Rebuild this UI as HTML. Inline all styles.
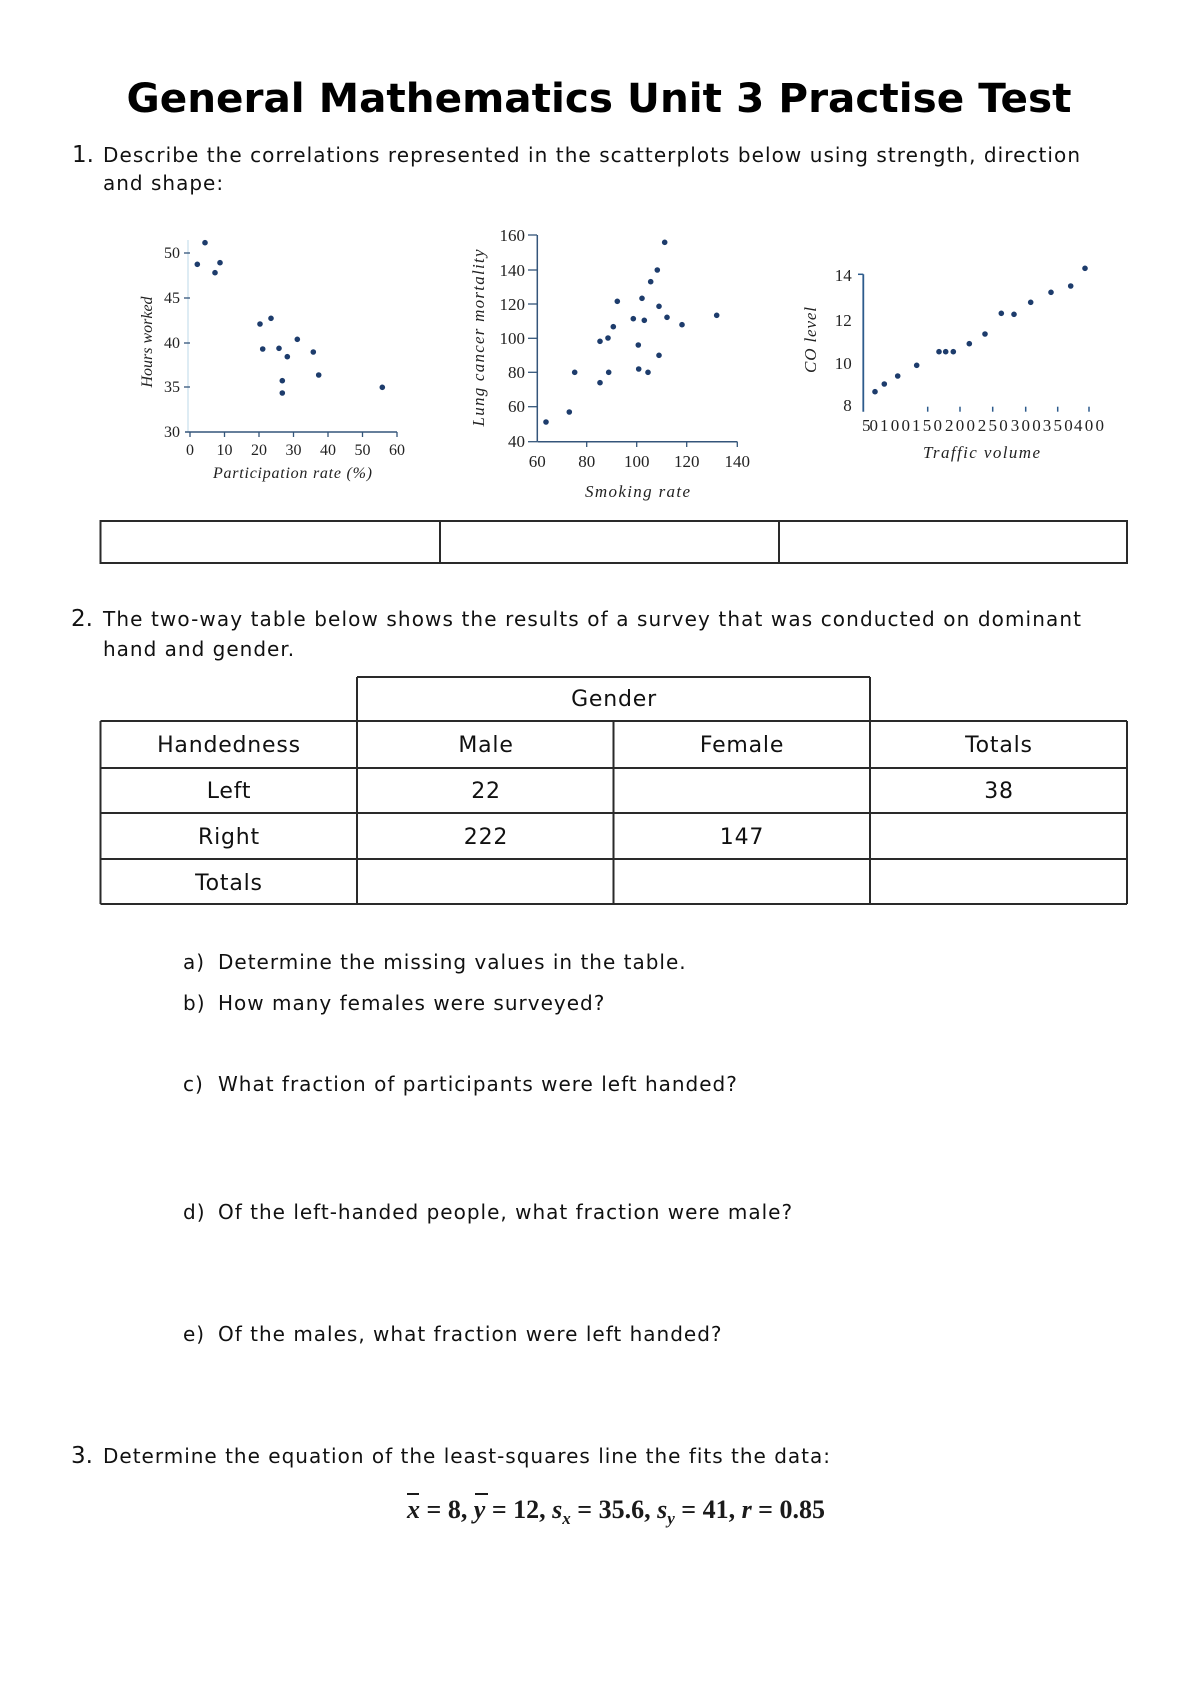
<!DOCTYPE html>
<html>
<head>
<meta charset="utf-8">
<style>
html,body{margin:0;padding:0;background:#fff;}
svg{display:block;}
.b{font-family:"DejaVu Sans","Liberation Sans",sans-serif;font-size:20px;letter-spacing:1px;fill:#111;}
.n{font-family:"DejaVu Sans","Liberation Sans",sans-serif;font-size:23px;fill:#111;}
.t{font-family:"DejaVu Sans","Liberation Sans",sans-serif;font-size:22px;letter-spacing:0.8px;fill:#111;text-anchor:middle;}
.s{font-family:"Liberation Serif",serif;fill:#222;}
.i{font-family:"Liberation Serif",serif;font-style:italic;fill:#222;}
.f{font-family:"Liberation Serif",serif;font-weight:bold;font-size:26px;fill:#1a1a1a;}
</style>
</head>
<body>
<svg width="1200" height="1696" viewBox="0 0 1200 1696" xmlns="http://www.w3.org/2000/svg">
<rect width="1200" height="1696" fill="#fff"/>

<!-- Title -->
<text x="599" y="112" text-anchor="middle" font-family="DejaVu Sans, Liberation Sans, sans-serif" font-weight="bold" font-size="40.5" fill="#000">General Mathematics Unit 3 Practise Test</text>

<!-- Q1 -->
<text class="n" x="72" y="162">1.</text>
<text class="b" x="103" y="162" textLength="978">Describe the correlations represented in the scatterplots below using strength, direction</text>
<text class="b" x="103" y="190">and shape:</text>

<!-- Chart 1 -->
<g>
<line x1="188" y1="240" x2="188" y2="432" stroke="#d3e6f1" stroke-width="1.5"/>
<line x1="185" y1="432" x2="397" y2="432" stroke="#34557a" stroke-width="1.5"/>
<g stroke="#34557a" stroke-width="1.3">
<line x1="184" y1="253" x2="190" y2="253"/><line x1="184" y1="298" x2="190" y2="298"/><line x1="184" y1="343" x2="190" y2="343"/><line x1="184" y1="387" x2="190" y2="387"/>
<line x1="190" y1="432" x2="190" y2="437"/><line x1="224.5" y1="432" x2="224.5" y2="437"/><line x1="259" y1="432" x2="259" y2="437"/><line x1="293.5" y1="432" x2="293.5" y2="437"/><line x1="328" y1="432" x2="328" y2="437"/><line x1="362.5" y1="432" x2="362.5" y2="437"/><line x1="397" y1="432" x2="397" y2="437"/>
</g>
<g class="s" font-size="16" text-anchor="end">
<text x="180" y="258">50</text><text x="180" y="303">45</text><text x="180" y="348">40</text><text x="180" y="392">35</text><text x="180" y="437">30</text>
</g>
<g class="s" font-size="16" text-anchor="middle">
<text x="190" y="455">0</text><text x="224.5" y="455">10</text><text x="259" y="455">20</text><text x="293.5" y="455">30</text><text x="328" y="455">40</text><text x="362.5" y="455">50</text><text x="397" y="455">60</text>
</g>
<text class="i" x="213" y="478" font-size="16" textLength="159">Participation rate (%)</text>
<text class="i" font-size="16" transform="translate(152,342) rotate(-90)" text-anchor="middle">Hours worked</text>
<g fill="#1d3c6c">
<circle cx="197.3" cy="264.3" r="2.8"/><circle cx="205" cy="242.7" r="2.8"/><circle cx="215" cy="272.7" r="2.8"/><circle cx="220" cy="262.7" r="2.8"/>
<circle cx="260" cy="324" r="2.8"/><circle cx="271" cy="318.3" r="2.8"/><circle cx="262.7" cy="349" r="2.8"/><circle cx="279" cy="348.3" r="2.8"/>
<circle cx="287.3" cy="356.7" r="2.8"/><circle cx="297.3" cy="339.3" r="2.8"/><circle cx="313.3" cy="352" r="2.8"/><circle cx="318.7" cy="375" r="2.8"/>
<circle cx="282.3" cy="380.7" r="2.8"/><circle cx="282.3" cy="393" r="2.8"/><circle cx="382.3" cy="387.3" r="2.8"/>
</g>
</g>

<!-- Chart 2 -->
<g>
<line x1="537.3" y1="235" x2="537.3" y2="441.7" stroke="#34557a" stroke-width="1.5"/>
<line x1="537.3" y1="441.7" x2="737.3" y2="441.7" stroke="#34557a" stroke-width="1.5"/>
<g stroke="#34557a" stroke-width="1.3">
<line x1="528" y1="235" x2="537" y2="235"/><line x1="528" y1="270" x2="537" y2="270"/><line x1="528" y1="304" x2="537" y2="304"/><line x1="528" y1="338.3" x2="537" y2="338.3"/><line x1="528" y1="372.3" x2="537" y2="372.3"/><line x1="528" y1="406.7" x2="537" y2="406.7"/><line x1="528" y1="441.7" x2="537" y2="441.7"/>
<line x1="586.7" y1="441.7" x2="586.7" y2="447"/><line x1="636.7" y1="441.7" x2="636.7" y2="447"/><line x1="686.7" y1="441.7" x2="686.7" y2="447"/><line x1="737.3" y1="441.7" x2="737.3" y2="447"/>
</g>
<g class="s" font-size="17" text-anchor="end">
<text x="525" y="241">160</text><text x="525" y="276">140</text><text x="525" y="310">120</text><text x="525" y="344">100</text><text x="525" y="378">80</text><text x="525" y="412">60</text><text x="525" y="447">40</text>
</g>
<g class="s" font-size="17" text-anchor="middle">
<text x="537.3" y="467">60</text><text x="586.7" y="467">80</text><text x="636.7" y="467">100</text><text x="686.7" y="467">120</text><text x="737.3" y="467">140</text>
</g>
<text class="i" x="585" y="497" font-size="17" textLength="105">Smoking rate</text>
<text class="i" font-size="17" transform="translate(484,338) rotate(-90)" text-anchor="middle" textLength="177">Lung cancer mortality</text>
<g fill="#1d3c6c">
<circle cx="546" cy="422" r="2.8"/><circle cx="569.3" cy="412" r="2.8"/><circle cx="574.7" cy="372.3" r="2.8"/><circle cx="600" cy="382.7" r="2.8"/>
<circle cx="600" cy="341.3" r="2.8"/><circle cx="608" cy="338" r="2.8"/><circle cx="608.7" cy="372.3" r="2.8"/><circle cx="613.3" cy="326.7" r="2.8"/>
<circle cx="617.3" cy="301.3" r="2.8"/><circle cx="633.3" cy="318.7" r="2.8"/><circle cx="638.3" cy="345" r="2.8"/><circle cx="638.7" cy="369" r="2.8"/>
<circle cx="642" cy="298.3" r="2.8"/><circle cx="644.3" cy="320.3" r="2.8"/><circle cx="648" cy="372.3" r="2.8"/><circle cx="650.7" cy="281.7" r="2.8"/>
<circle cx="657.3" cy="270" r="2.8"/><circle cx="659" cy="306.3" r="2.8"/><circle cx="659" cy="355.3" r="2.8"/><circle cx="664.7" cy="242.3" r="2.8"/>
<circle cx="667" cy="317.3" r="2.8"/><circle cx="682" cy="324.7" r="2.8"/><circle cx="716.7" cy="315.3" r="2.8"/>
</g>
</g>

<!-- Chart 3 -->
<g>
<line x1="863.3" y1="274.3" x2="863.3" y2="411.7" stroke="#2d5b8c" stroke-width="1.8"/>
<line x1="858" y1="274.3" x2="863.3" y2="274.3" stroke="#2d5b8c" stroke-width="1.5"/>
<g stroke="#2d5b8c" stroke-width="1.5">
<line x1="927.7" y1="406.7" x2="927.7" y2="411.7"/><line x1="960" y1="406.7" x2="960" y2="411.7"/><line x1="992.7" y1="406.7" x2="992.7" y2="411.7"/><line x1="1025.7" y1="406.7" x2="1025.7" y2="411.7"/><line x1="1057.7" y1="406.7" x2="1057.7" y2="411.7"/><line x1="1089" y1="406.7" x2="1089" y2="411.7"/>
</g>
<g class="s" font-size="17" text-anchor="end" fill="#2a2218">
<text x="851.7" y="281">14</text><text x="851.7" y="326">12</text><text x="851.7" y="369">10</text><text x="851.7" y="411">8</text>
</g>
<g class="s" font-size="17" fill="#2a2218">
<text x="862" y="431" textLength="16">50</text>
<text x="880" y="431" textLength="30">100</text>
<text x="912" y="431" textLength="30">150</text>
<text x="945" y="431" textLength="30">200</text>
<text x="977.7" y="431" textLength="30">250</text>
<text x="1010.7" y="431" textLength="30">300</text>
<text x="1042.7" y="431" textLength="30">350</text>
<text x="1074" y="431" textLength="30">400</text>
</g>
<text class="i" x="923" y="458" font-size="17" textLength="117">Traffic volume</text>
<text class="i" font-size="17" transform="translate(816,340) rotate(-90)" text-anchor="middle" textLength="66">CO level</text>
<g fill="#1d3c6c">
<circle cx="875" cy="391.7" r="2.8"/><circle cx="884.3" cy="384" r="2.8"/><circle cx="897.7" cy="376" r="2.8"/><circle cx="916.7" cy="365.3" r="2.8"/>
<circle cx="939" cy="351.7" r="2.8"/><circle cx="945.7" cy="351.7" r="2.8"/><circle cx="953.3" cy="351.7" r="2.8"/><circle cx="969.3" cy="343.7" r="2.8"/>
<circle cx="985" cy="334" r="2.8"/><circle cx="1001.3" cy="313.3" r="2.8"/><circle cx="1014" cy="314.3" r="2.8"/><circle cx="1030.7" cy="302.3" r="2.8"/>
<circle cx="1051" cy="292.3" r="2.8"/><circle cx="1070.7" cy="286" r="2.8"/><circle cx="1085" cy="268.3" r="2.8"/>
</g>
</g>

<!-- Answer box -->
<g stroke="#2a2a2a" stroke-width="2" fill="none">
<rect x="100.5" y="521" width="1026.5" height="42"/>
<line x1="440" y1="521" x2="440" y2="563"/>
<line x1="779" y1="521" x2="779" y2="563"/>
</g>

<!-- Q2 -->
<text class="n" x="71" y="626">2.</text>
<text class="b" x="103" y="626" textLength="979">The two-way table below shows the results of a survey that was conducted on dominant</text>
<text class="b" x="103" y="656">hand and gender.</text>

<!-- Two-way table -->
<g stroke="#2a2a2a" stroke-width="2" fill="none">
<line x1="357" y1="677" x2="870" y2="677"/>
<line x1="357" y1="677" x2="357" y2="904"/>
<line x1="870" y1="677" x2="870" y2="904"/>
<line x1="100.5" y1="721" x2="1127" y2="721"/>
<line x1="100.5" y1="768" x2="1127" y2="768"/>
<line x1="100.5" y1="813" x2="1127" y2="813"/>
<line x1="100.5" y1="859" x2="1127" y2="859"/>
<line x1="100.5" y1="904" x2="1127" y2="904"/>
<line x1="100.5" y1="721" x2="100.5" y2="904"/>
<line x1="613.5" y1="721" x2="613.5" y2="904"/>
<line x1="1127" y1="721" x2="1127" y2="904"/>
</g>
<text class="t" x="614" y="706">Gender</text>
<text class="t" x="229" y="752">Handedness</text>
<text class="t" x="486" y="752">Male</text>
<text class="t" x="742" y="752">Female</text>
<text class="t" x="999" y="752">Totals</text>
<text class="t" x="229" y="798">Left</text>
<text class="t" x="486" y="798">22</text>
<text class="t" x="999" y="798">38</text>
<text class="t" x="229" y="844">Right</text>
<text class="t" x="486" y="844">222</text>
<text class="t" x="742" y="844">147</text>
<text class="t" x="229" y="890">Totals</text>

<!-- Sub-questions -->
<text class="b" x="183" y="969">a)</text>
<text class="b" x="218" y="969">Determine the missing values in the table.</text>
<text class="b" x="183" y="1010">b)</text>
<text class="b" x="218" y="1010">How many females were surveyed?</text>
<text class="b" x="183" y="1091">c)</text>
<text class="b" x="218" y="1091">What fraction of participants were left handed?</text>
<text class="b" x="183" y="1219">d)</text>
<text class="b" x="218" y="1219">Of the left-handed people, what fraction were male?</text>
<text class="b" x="183" y="1341">e)</text>
<text class="b" x="218" y="1341">Of the males, what fraction were left handed?</text>

<!-- Q3 -->
<text class="n" x="71" y="1463">3.</text>
<text class="b" x="103" y="1463" textLength="728">Determine the equation of the least-squares line the fits the data:</text>

<!-- Formula -->
<text class="f" x="407" y="1518" textLength="418" lengthAdjust="spacing"><tspan font-style="italic">x</tspan> = 8, <tspan font-style="italic">y</tspan> = 12, <tspan font-style="italic">s</tspan><tspan font-style="italic" font-size="17" dy="6">x</tspan><tspan dy="-6"> = 35.6, </tspan><tspan font-style="italic">s</tspan><tspan font-style="italic" font-size="17" dy="6">y</tspan><tspan dy="-6"> = 41, </tspan><tspan font-style="italic">r</tspan> = 0.85</text>
<line x1="407" y1="1494" x2="419" y2="1494" stroke="#1a1a1a" stroke-width="2"/>
<line x1="475" y1="1494" x2="488" y2="1494" stroke="#1a1a1a" stroke-width="2"/>
</svg>
</body>
</html>
